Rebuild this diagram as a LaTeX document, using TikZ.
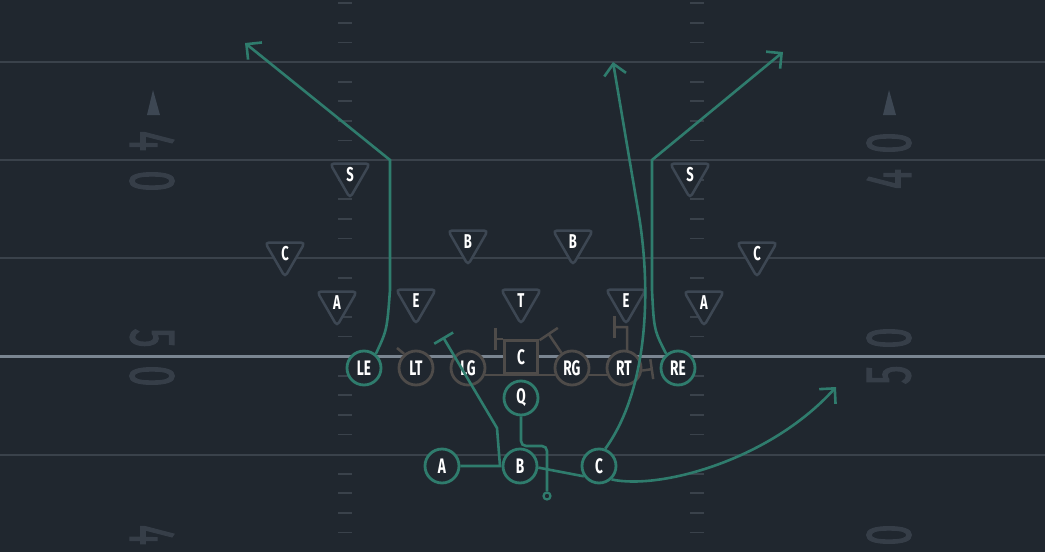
\documentclass[tikz,border=0pt]{standalone}
\usepackage{fontspec}
\usepackage{tikz}
\usetikzlibrary{
  arrows.meta,
  shapes.geometric
}
\newfontfamily\playerfont[FakeStretch=0.65]{Fira Sans}
\newfontfamily\yardfont[FakeStretch=0.58,FakeBold=1.6]{Fira Sans}
\definecolor{turf}{HTML}{20272F}
\definecolor{yardgray}{HTML}{3A424B}
\definecolor{midgray}{HTML}{7A8591}
\definecolor{numgray}{HTML}{363E48}
\definecolor{defgray}{HTML}{3D4753}
\definecolor{offgreen}{HTML}{2F7C6D}
\definecolor{olgray}{HTML}{4E4B49}
\tikzset{
  player/.style={circle,draw=offgreen,line width=2.8pt,fill=turf,minimum size=34pt,
    inner sep=0pt,text=white,font=\playerfont\bfseries\fontsize{21}{21}\selectfont},
  lineman/.style={player,draw=olgray},
  defender/.style={regular polygon,regular polygon sides=3,shape border rotate=180,
    draw=defgray,line width=2.5pt,fill=turf,minimum size=46pt,inner sep=0pt,
    rounded corners=4pt,text=white,font=\playerfont\bfseries\fontsize{20}{20}\selectfont},
  yardnum/.style={inner sep=0pt,text=numgray,font=\yardfont\fontsize{65}{65}\selectfont},
  route/.style={draw=offgreen,line width=2.6pt},
  blocker/.style={draw=olgray,line width=2.5pt},
  barb/.style={-{Straight Barb[length=11pt,width=22pt]}},
  blockend/.style={-{Bar[width=22pt]}},
}

\begin{document}
\begin{tikzpicture}[
  x=1pt,y=-1pt,
  yard/.style={draw=yardgray,line width=2.6pt},
  hash/.style={draw=yardgray,line width=1.8pt},
]
\useasboundingbox (0,0) rectangle (1045,552);
\fill[turf] (0,0) rectangle (1045,552);

\foreach \d/\y [count=\i] in {4/141,0/181,5/338,0/376,4/535}
  \node[yardnum,rotate=-90] (numl\i) at (152,\y) {\d};
\foreach \d/\y [count=\i] in {0/143,4/179,0/338,5/375,0/535}
  \node[yardnum,rotate=90] (numr\i) at (889,\y) {\d};
\fill[defgray] (153,90) -- (147,115) -- (160,115) -- cycle;
\fill[defgray] (889,90) -- (883,115) -- (896,115) -- cycle;

\foreach \k in {-18,...,9}{
  \pgfmathtruncatemacro\r{mod(\k+20,5)}
  \ifnum\r>0
    \draw[hash] (338,{356+19.6*\k}) -- (352,{356+19.6*\k})
                (690,{356+19.6*\k}) -- (704,{356+19.6*\k});
  \fi
}
\foreach \y in {62,160,258,455}
  \draw[yard] (0,\y) -- (1045,\y);
\draw[yard,draw=midgray,line width=3pt] (0,356) -- (1045,356);

\node[defender] (ssl) at (350,175) {S};
\node[defender] (ssr) at (690,175) {S};
\node[defender] (cbl) at (285,254) {C};
\node[defender] (cbr) at (757,254) {C};
\node[defender] (lbl) at (468,242) {B};
\node[defender] (lbr) at (573,242) {B};
\node[defender] (oll) at (337,303) {A};
\node[defender] (olr) at (704,303) {A};
\node[defender] (del) at (416,301) {E};
\node[defender] (der) at (626,301) {E};
\node[defender] (dtt) at (521,301) {T};

\node[lineman] (lt) at (416,368) {LT};
\node[lineman] (lg) at (468,368) {LG};
\node[lineman,rectangle,minimum size=33pt] (cn) at (521,357) {C};
\node[lineman] (rg) at (572,368) {RG};
\node[lineman] (rt) at (624,368) {RT};

\draw[blocker] (lg.-22) -- (rg.202);
\draw[blocker] (rg.-22) -- (rt.202);
\draw[blocker] (lt.130) -- (397,348);
\draw[blocker,blockend] (cn.north west) -- ++(-9,0);
\draw[blocker,blockend] (rg.125) -- (548,333);
\draw[blocker,blockend] (rt.80) -- (627,327) -- (613,327);
\draw[blocker,-{Bar[width=20pt]}] (rt.-8) -- (653,369);

\node[player] (le) at (364,368) {LE};
\node[player] (re) at (678,368) {RE};
\node[player] (qb) at (521,398) {Q};
\node[player] (ba) at (442,466) {A};
\node[player] (bb) at (520,466) {B};
\node[player] (bc) at (599,466) {C};
\node[circle,draw=offgreen,line width=2.2pt,minimum size=7pt,inner sep=0pt,fill=turf] (qend) at (547,496) {};

\draw[route,barb] (le.50) .. controls (387,330) .. (390,290) -- (390,160) -- (245,43);
\draw[route,barb] (re.130) .. controls (654,330) .. (652,290) -- (652,160) -- (783,52);
\draw[route,barb] (bc.70) .. controls (648,390) and (652,290) .. (638,210) -- (613,62);
\draw[route,blockend] (ba) -- (500,466) -- (497,428) -- (443,337);
\draw[route] (bb.-5) -- (bc.214);
\draw[route,barb] (bc.-47) .. controls (660,490) and (770,460) .. (836,387);
\draw[route,rounded corners=5pt] (qb) -- (521,446) -- (547,446) -- (qend);
\end{tikzpicture}
\end{document}
